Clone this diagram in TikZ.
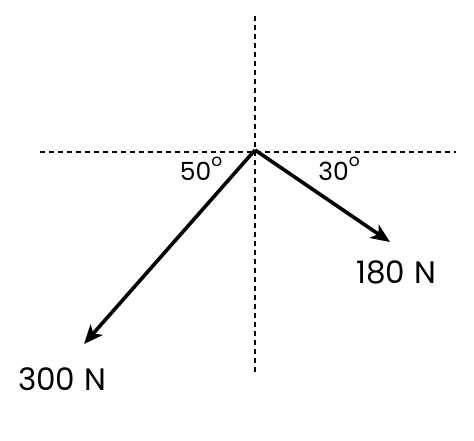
\documentclass[tikz,border=0pt]{standalone}
\usepackage{fontspec}
\setmainfont{Poppins}
\usetikzlibrary{arrows.meta,positioning}

\newcommand{\degsign}{\raisebox{0.55em}{\fontsize{17}{17}\selectfont o}}

\begin{document}
\begin{tikzpicture}[x=1pt,y=-1pt,
      axis/.style={
         line width=1.8pt,
         dash pattern=on 5pt off 4pt
      },
      force/.style={
         -{Stealth[length=19pt,width=16pt,inset=5pt]},
         line width=3.6pt
      },
      anglelabel/.style={font=\fontsize{25}{25}\selectfont},
      loadlabel/.style={font=\fontsize{31}{31}\selectfont},
    ]
    \useasboundingbox (0,0) rectangle (474,440);
    % axes
    \coordinate (o) at (255,150);
    \coordinate (top) at (255,16);
    \coordinate (bottom) at (255,373);
    \coordinate (left) at (40,152);
    \coordinate (right) at (456,152);
    \draw[axis] (top) -- (bottom);
    \draw[axis] (left) -- (right);
    % forces
    \coordinate (tip180) at (390,242);
    \coordinate (tip300) at (84,344);
    \draw[force] (o) -- (tip180);
    \draw[force] (o) -- (tip300);
    % labels
    \node (a50) [anglelabel] at (201,169) {50\degsign};
    \node (a30) [anglelabel] at (339,169) {30\degsign};
    \node (f180) [loadlabel] at (396,272) {180\hspace{9pt}N};
    \node (f300) [loadlabel] at (62,379) {300\hspace{9pt}N};
\end{tikzpicture}
\end{document}
